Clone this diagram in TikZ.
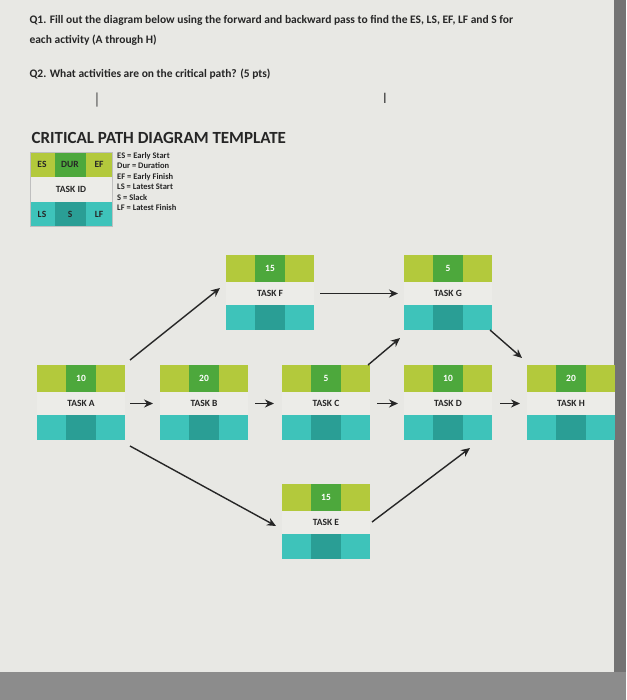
\documentclass[tikz,border=0pt]{standalone}
\usepackage{fontspec}
\setmainfont{Carlito}
\usetikzlibrary{arrows.meta}
\definecolor{bg}{HTML}{E8E8E4}
\definecolor{lg}{HTML}{B3C93C}
\definecolor{dg}{HTML}{4DA83C}
\definecolor{lt}{HTML}{3EC3BA}
\definecolor{dt}{HTML}{2A9E95}
\definecolor{mid}{HTML}{ECECE8}
\tikzset{
 lbl/.style={font=\bfseries\fontsize{9.5}{10}\selectfont,text=black!85},
 num/.style={font=\bfseries\fontsize{9.5}{10}\selectfont,text=white},
 conn/.style={line width=1.4pt,black!85,-{Stealth[length=9pt,width=8pt]}},
 qtext/.style={font=\bfseries\fontsize{11.5}{13}\selectfont,anchor=west,text=black!85}
}
\newcommand{\taskbox}[5]{% name x y label num
 \fill[lg] (#2,#3) rectangle ++(88,27);
 \fill[dg] (#2+29,#3) rectangle ++(30,27);
 \fill[mid] (#2,#3+27) rectangle ++(88,23);
 \fill[lt] (#2,#3+50) rectangle ++(88,25);
 \fill[dt] (#2+29,#3+50) rectangle ++(30,25);
 \node[num] at (#2+44,#3+13.5) {#5};
 \node[lbl] (#1) at (#2+44,#3+38.5) {#4};
 \coordinate (#1w) at (#2,#3+38.5);
 \coordinate (#1e) at (#2+88,#3+38.5);
}
\begin{document}
\begin{tikzpicture}[x=1pt,y=-1pt]
\useasboundingbox (0,0) rectangle (626,700);
\fill[bg] (0,0) rectangle (626,700);
\fill[black!55] (614,0) rectangle (626,700);
\fill[black!45] (0,672) rectangle (626,700);
\node[qtext] (q1) at (26,20) {Q1. Fill out the diagram below using the forward and backward pass to find the ES, LS, EF, LF and S for};
\node[qtext] (q1b) at (26,40) {each activity (A through H)};
\node[qtext] (q2) at (26,74) {Q2. What activities are on the critical path? (5 pts)};
\node[font=\fontsize{16}{16}\selectfont,text=black!70] (bar) at (97,100) {|};
\node[font=\fontsize{16}{16}\selectfont,text=black!70] (ibeam) at (385,98) {I};
\node[anchor=west,font=\bfseries\fontsize{17}{18}\selectfont,text=black!85] (title) at (28,138) {CRITICAL PATH DIAGRAM TEMPLATE};
% legend
\fill[lg] (30,152) rectangle (112,177);
\fill[dg] (55,152) rectangle (86,177);
\fill[mid] (30,177) rectangle (112,202);
\fill[lt] (30,202) rectangle (112,226);
\fill[dt] (55,202) rectangle (86,226);
\draw[black!25] (30,152) rectangle (112,226);
\node[lbl] (les) at (42,164) {ES};
\node[lbl] (ldur) at (70,164) {DUR};
\node[lbl] (lef) at (99,164) {EF};
\node[lbl] (lid) at (71,189) {TASK ID};
\node[lbl] (lls) at (42,214) {LS};
\node[lbl] (lsl) at (70,214) {S};
\node[lbl] (llf) at (99,214) {LF};
\node[anchor=north west,align=left,inner sep=0pt,font=\bfseries\fontsize{8.5}{10.5}\selectfont,text=black!85] (leg) at (117,152) {ES = Early Start\\Dur = Duration\\EF = Early Finish\\LS = Latest Start\\S = Slack\\LF = Latest Finish};
% tasks
\taskbox{A}{37}{365}{TASK A}{10}
\taskbox{B}{160}{365}{TASK B}{20}
\taskbox{C}{282}{365}{TASK C}{5}
\taskbox{D}{404}{365}{TASK D}{10}
\taskbox{H}{527}{365}{TASK H}{20}
\taskbox{F}{226}{255}{TASK F}{15}
\taskbox{G}{404}{255}{TASK G}{5}
\taskbox{E}{282}{484}{TASK E}{15}
\draw[conn] ([xshift=5]Ae) -- ([xshift=-7]Bw);
\draw[conn] ([xshift=7]Be) -- ([xshift=-8]Cw);
\draw[conn] ([xshift=7]Ce) -- ([xshift=-6]Dw);
\draw[conn] ([xshift=8]De) -- ([xshift=-7]Hw);
\draw[conn] ([xshift=6]Fe) -- ([xshift=-6]Gw);
\draw[conn] (130,360) -- (220,288);
\draw[conn] (368,365) -- (400,338);
\draw[conn] (490,330) -- (522,358);
\draw[conn] (130,446) -- (276,526);
\draw[conn] (372,522) -- (470,448);
\end{tikzpicture}
\end{document}
